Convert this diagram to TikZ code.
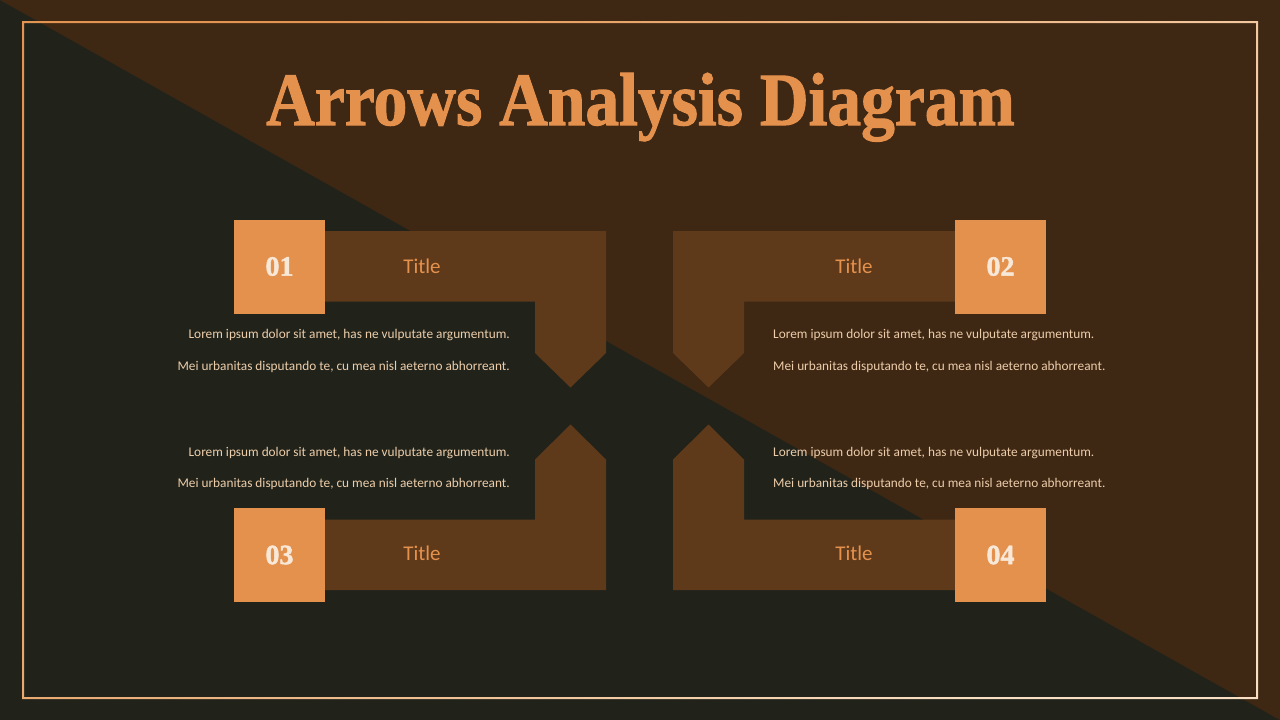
\documentclass[tikz,border=0pt]{standalone}
\usepackage{fontspec}
\newfontfamily\bodyfont{Carlito}
\newfontfamily\headfont{Liberation Serif}[BoldFeatures={FakeBold=1.5}]
\definecolor{darkbg}{HTML}{21231B}
\definecolor{brownbg}{HTML}{3E2713}
\definecolor{arrowfill}{HTML}{5E3A1A}
\definecolor{boxfill}{HTML}{E5914E}
\definecolor{numtext}{HTML}{F8E8D8}
\definecolor{bodytext}{HTML}{EDCDAA}
\definecolor{frameA}{HTML}{E39450}
\definecolor{frameB}{HTML}{F8DEC2}

\begin{document}
\begin{tikzpicture}[x=1pt,y=-1pt,
    numbox/.style={fill=boxfill,minimum width=91pt,minimum height=94pt,inner sep=0pt,
      text=numtext,font=\headfont\bfseries\fontsize{28}{28}\selectfont},
    steptitle/.style={text=boxfill,inner sep=0pt,anchor=base,font=\bodyfont\fontsize{21}{21}\selectfont},
    bodyline/.style={text=bodytext,inner sep=0pt,font=\bodyfont\fontsize{13.3}{15}\selectfont}]
  \useasboundingbox (0,0) rectangle (1280,720);

  % background halves and frame
  \fill[darkbg] (0,0) rectangle (1280,720);
  \fill[brownbg] (0,0) -- (1280,0) -- (1280,720) -- cycle;
  \shade[even odd rule,left color=frameA,right color=frameB,shading angle=45]
    (22,21) rectangle (1258,699) (24,23) rectangle (1256,697);

  \node[anchor=base,text=boxfill,inner sep=0pt] (title) at (640.5,125)
    {\scalebox{0.9}[1]{\headfont\bfseries\fontsize{75}{75}\selectfont Arrows Analysis Diagram}};

  % arrows
  \fill[arrowfill] (320,231) -- (606,231) -- (606,353) -- (570.5,387.5) -- (535,353)
    -- (535,301.5) -- (320,301.5) -- cycle;
  \fill[arrowfill] (960,231) -- (673,231) -- (673,353) -- (708.5,387.5) -- (744,353)
    -- (744,301.5) -- (960,301.5) -- cycle;
  \fill[arrowfill] (320,590) -- (606,590) -- (606,459.5) -- (570.5,424.5) -- (535,459.5)
    -- (535,519.5) -- (320,519.5) -- cycle;
  \fill[arrowfill] (960,590) -- (673,590) -- (673,459.5) -- (708.5,424.5) -- (744,459.5)
    -- (744,519.5) -- (960,519.5) -- cycle;

  \node[numbox] (box1) at (279.5,266.5)  {01};
  \node[numbox] (box2) at (1000.5,266.5) {02};
  \node[numbox] (box3) at (279.5,555)    {03};
  \node[numbox] (box4) at (1000.5,555)   {04};

  \node[steptitle] (title1) at (422,273) {Title};
  \node[steptitle] (title2) at (854,273) {Title};
  \node[steptitle] (title3) at (422,560) {Title};
  \node[steptitle] (title4) at (854,560) {Title};

  \node[bodyline,anchor=base east] (text1a) at (510,338.5) {Lorem ipsum dolor sit amet, has ne vulputate argumentum.};
  \node[bodyline,anchor=base east] (text1b) at (510,370)   {Mei urbanitas disputando te, cu mea nisl aeterno abhorreant.};
  \node[bodyline,anchor=base west] (text2a) at (773,338.5) {Lorem ipsum dolor sit amet, has ne vulputate argumentum.};
  \node[bodyline,anchor=base west] (text2b) at (773,370)   {Mei urbanitas disputando te, cu mea nisl aeterno abhorreant.};
  \node[bodyline,anchor=base east] (text3a) at (510,456)   {Lorem ipsum dolor sit amet, has ne vulputate argumentum.};
  \node[bodyline,anchor=base east] (text3b) at (510,487)   {Mei urbanitas disputando te, cu mea nisl aeterno abhorreant.};
  \node[bodyline,anchor=base west] (text4a) at (773,456)   {Lorem ipsum dolor sit amet, has ne vulputate argumentum.};
  \node[bodyline,anchor=base west] (text4b) at (773,487)   {Mei urbanitas disputando te, cu mea nisl aeterno abhorreant.};
\end{tikzpicture}
\end{document}
